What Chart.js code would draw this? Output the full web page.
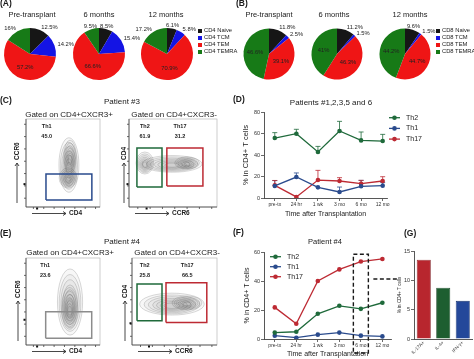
<!DOCTYPE html>
<html>
<head>
<meta charset="utf-8">
<script src="https://cdn.jsdelivr.net/npm/chart.js@4.4.1/dist/chart.umd.min.js"></script>
<style>
  body { margin: 0; width: 474px; height: 359px; position: relative; overflow: hidden; background: #fff;
         font-family: 'Liberation Sans', Arial, Helvetica, sans-serif; color: #1a1a1a; }
  canvas { position: absolute; }
  .c { position: absolute; white-space: nowrap; transform: translate(-50%, -50%); line-height: 1; filter: grayscale(1); }
  .l { position: absolute; white-space: nowrap; transform: translateY(-50%); line-height: 1; filter: grayscale(1); }
  .panel { font-size: 8.5px; font-weight: bold; }
  .pt { font-size: 7.5px; }
  .ft { font-size: 8px; }
  .lg { font-size: 5.8px; }
  .sq { position: absolute; width: 4px; height: 4px; }
</style>
</head>
<body>
<!-- panel letters -->
<div class="l panel" style="left:0;top:3px">(A)</div>
<div class="l panel" style="left:236px;top:3px">(B)</div>
<div class="l panel" style="left:0;top:100px">(C)</div>
<div class="l panel" style="left:233px;top:99px">(D)</div>
<div class="l panel" style="left:0;top:233px">(E)</div>
<div class="l panel" style="left:233px;top:232px">(F)</div>
<div class="l panel" style="left:404px;top:233px">(G)</div>

<!-- pie titles -->
<div class="c pt" style="left:32px;top:15px">Pre-transplant</div>
<div class="c pt" style="left:99px;top:15px">6 months</div>
<div class="c pt" style="left:166px;top:15px">12 months</div>
<div class="c pt" style="left:269px;top:15px">Pre-transplant</div>
<div class="c pt" style="left:334px;top:15px">6 months</div>
<div class="c pt" style="left:410px;top:15px">12 months</div>

<div id="legA"></div>
<div id="legB"></div>

<!-- flow / line titles -->
<div class="c ft" style="left:122px;top:102px">Patient #3</div>
<div class="c ft" style="left:69px;top:115px">Gated on CD4+CXCR3+</div>
<div class="c ft" style="left:174px;top:115px">Gated on CD4+CXCR3-</div>
<div class="c ft" style="left:122px;top:242px">Patient #4</div>
<div class="c ft" style="left:70px;top:253px">Gated on CD4+CXCR3+</div>
<div class="c ft" style="left:177px;top:253px">Gated on CD4+CXCR3-</div>
<div class="c ft" style="left:331px;top:103px">Patients #1,2,3,5 and 6</div>
<div class="c pt" style="left:325px;top:242px">Patient #4</div>

<canvas id="pieA1" width="90" height="70" style="left:-15px;top:19px"></canvas>
<canvas id="pieA2" width="90" height="70" style="left:54px;top:19px"></canvas>
<canvas id="pieA3" width="90" height="70" style="left:122px;top:19px"></canvas>
<canvas id="pieB1" width="90" height="70" style="left:224px;top:19px"></canvas>
<canvas id="pieB2" width="90" height="70" style="left:292px;top:19px"></canvas>
<canvas id="pieB3" width="90" height="70" style="left:360px;top:19px"></canvas>

<canvas id="flowC1" width="105" height="103" style="left:3px;top:117px"></canvas>
<canvas id="flowC2" width="115" height="103" style="left:110px;top:117px"></canvas>
<canvas id="flowE1" width="105" height="103" style="left:3px;top:256px"></canvas>
<canvas id="flowE2" width="115" height="103" style="left:110px;top:256px"></canvas>

<canvas id="lineD" width="237" height="115" style="left:237px;top:104px"></canvas>
<canvas id="lineF" width="237" height="113" style="left:237px;top:246px"></canvas>
<canvas id="barG" width="81" height="113" style="left:393px;top:246px"></canvas>

<script>
// ---- data ----
const cd4Subsets = ['CD4 Naive', 'CD4 TCM', 'CD4 TEM', 'CD4 TEMRA'];
const cd8Subsets = ['CD8 Naive', 'CD8 TCM', 'CD8 TEM', 'CD8 TEMRA'];
const cd4Pre = [12.5, 14.2, 57.2, 16];
const cd4Month6 = [8.5, 15.4, 66.6, 9.5];
const cd4Month12 = [6.1, 5.8, 70.9, 17.2];
const cd8Pre = [11.8, 2.5, 39.1, 46.6];
const cd8Month6 = [11.2, 1.5, 46.3, 41];
const cd8Month12 = [9.6, 1.5, 44.7, 44.2];

const timepoints = ['pre-tx', '24 hr', '1 wk', '3 mo', '6 mo', '12 mo'];
const groupTh2 = [55.8, 59.8, 42.8, 62.3, 53.6, 53];
const groupTh2Err = [5, 4.1, 5.2, 9, 7.8, 6.2];
const groupTh1 = [11.2, 19.5, 9.9, 5.6, 10.9, 11.5];
const groupTh1Err = [5, 3.8, 0, 4.6, 5.5, 3];
const groupTh17 = [11.8, 1, 16.7, 15.8, 13.3, 15.8];
const groupTh17Err = [4.5, 0, 9, 3.1, 3.1, 4];

const p4Th2 = [4.4, 5, 17.4, 22.9, 20.8, 25];
const p4Th1 = [2.3, 0.9, 3, 4.4, 2.3, 1.8];
const p4Th17 = [21.8, 10.5, 40, 48, 53.4, 55.2];

const cytokines = ['IL-17A+', 'IL-4+', 'IFN-\u03b3+'];
const cytokinePct = [13.5, 8.75, 6.5];

// flow gates: [x0, x1, y0, y1] on a 0-100 display scale
const p3Th1Gate = [27, 89, 8, 37.5];
const p3Th2Gate = [9, 37.5, 22.7, 67];
const p3Th17Gate = [43, 84, 23.9, 67];
const p4Th1Gate = [26.6, 88.8, 7.7, 38.3];
const p4Th2Gate = [5.9, 35.3, 28, 70];
const p4Th17Gate = [40, 88, 26, 71.6];
const p3Th1Pct = '45.0', p3Th2Pct = '61.9', p3Th17Pct = '31.2';
const p4Th1Pct = '23.6', p4Th2Pct = '25.8', p4Th17Pct = '66.5';
// contour populations: [cx, cy, rx, ry]
const p3PosCells = [[58, 47.7, 13.5, 31], [56.8, 33, 12, 11.4], [59.5, 57, 8.5, 19]];
const p3NegCells = [[49, 49, 34, 9.5], [18, 50, 10, 12.5], [66, 50, 14, 7]];
const p4PosCells = [[59.5, 49.4, 17, 38], [59, 42, 11, 24]];
const p4NegCells = [[47, 47, 38, 12.6], [64.7, 48.3, 17.6, 8]];

const FONT = "'Liberation Sans', Arial, Helvetica, sans-serif";
Chart.defaults.font.family = FONT;
Chart.defaults.color = '#222';
Chart.defaults.animation = false;
Chart.defaults.responsive = false;
Chart.defaults.plugins.legend.display = false;
Chart.defaults.plugins.tooltip.enabled = false;

const pieColors = ['#161616', '#1414e4', '#ef1515', '#177a17'];
const green = '#1f6a3b', blue = '#2a4b8d', red = '#bd2a33';

// html legends for the pies
function pieLegend (el, names, left) {
  const box = document.getElementById(el);
  names.forEach((n, i) => {
    const y = 31 + i * 7;
    const sq = document.createElement('div');
    sq.className = 'sq';
    sq.style.left = left + 'px';
    sq.style.top = (y - 2) + 'px';
    sq.style.background = pieColors[i];
    box.appendChild(sq);
    const d = document.createElement('div');
    d.className = 'l lg';
    d.style.left = (left + 6) + 'px';
    d.style.top = y + 'px';
    d.textContent = n;
    box.appendChild(d);
  });
}
pieLegend('legA', cd4Subsets, 198);
pieLegend('legB', cd8Subsets, 436);

// percentage labels on / around slices
const pieLabels = {
  id: 'pieLabels',
  afterDatasetsDraw (chart) {
    const ctx = chart.ctx;
    const vals = chart.data.datasets[0].data;
    ctx.save();
    ctx.font = '5.8px ' + FONT;
    ctx.fillStyle = '#222';
    ctx.textBaseline = 'middle';
    chart.getDatasetMeta(0).data.forEach((arc, i) => {
      const mid = (arc.startAngle + arc.endAngle) / 2;
      const inside = vals[i] > 30;
      const d = arc.outerRadius * (inside ? 0.55 : 1.12);
      const c = Math.cos(mid);
      ctx.textAlign = inside ? 'center' : (c > 0.3 ? 'left' : c < -0.3 ? 'right' : 'center');
      ctx.fillText(vals[i] + '%', arc.x + c * d, arc.y + Math.sin(mid) * d);
    });
    ctx.restore();
  }
};

function pie (id, labels, values, r) {
  const cv = document.getElementById(id);
  const px = (cv.width - 2 * r) / 2, py = (cv.height - 2 * r) / 2;
  new Chart(cv, {
    type: 'pie',
    data: { labels: labels, datasets: [{ data: values, backgroundColor: pieColors, borderWidth: 0 }] },
    options: { layout: { padding: { left: px, right: px, top: py, bottom: py } } },
    plugins: [pieLabels]
  });
}
pie('pieA1', cd4Subsets, cd4Pre, 26);
pie('pieA2', cd4Subsets, cd4Month6, 26);
pie('pieA3', cd4Subsets, cd4Month12, 26);
pie('pieB1', cd8Subsets, cd8Pre, 25.5);
pie('pieB2', cd8Subsets, cd8Month6, 25.5);
pie('pieB3', cd8Subsets, cd8Month12, 25.5);

// ---- flow plots ----
const contourLevels = [1, 0.86, 0.73, 0.6, 0.48, 0.36, 0.25];
const flowDecor = {
  id: 'flowDecor',
  beforeDatasetsDraw (chart, args, o) {
    const ctx = chart.ctx, xs = chart.scales.x, ys = chart.scales.y, a = chart.chartArea;
    ctx.save();
    o.cells.forEach(([cx, cy, rx, ry]) => {
      const px = xs.getPixelForValue(cx), py = ys.getPixelForValue(cy);
      const prx = xs.getPixelForValue(cx + rx) - px, pry = py - ys.getPixelForValue(cy + ry);
      contourLevels.forEach(f => {
        ctx.beginPath();
        ctx.ellipse(px, py + pry * (1 - f) * 0.2, prx * f, pry * f, 0, 0, Math.PI * 2);
        ctx.fillStyle = 'rgba(120,120,120,0.06)';
        ctx.fill();
        ctx.strokeStyle = 'rgba(70,70,70,0.42)';
        ctx.lineWidth = 0.5;
        ctx.stroke();
      });
    });
    // frame
    ctx.strokeStyle = '#b8b8b8';
    ctx.lineWidth = 0.7;
    ctx.strokeRect(a.left, a.top, a.right - a.left, a.bottom - a.top);
    ctx.strokeStyle = '#444';
    ctx.lineWidth = 0.8;
    ctx.beginPath();
    ctx.moveTo(a.left, a.top); ctx.lineTo(a.left, a.bottom); ctx.lineTo(a.right, a.bottom);
    [10, 24, 38, 52, 66, 80, 94].forEach(v => {
      const y = ys.getPixelForValue(v);
      ctx.moveTo(a.left - 2, y); ctx.lineTo(a.left, y);
      const x = xs.getPixelForValue(v);
      ctx.moveTo(x, a.bottom); ctx.lineTo(x, a.bottom + 2);
    });
    ctx.stroke();
    ctx.fillStyle = '#111';
    ctx.fillRect(a.left - 2.5, ys.getPixelForValue(o.zeroY) - 1, 2, 2);
    ctx.fillRect(xs.getPixelForValue(o.zeroX) - 1, a.bottom + 0.5, 2, 2);
    ctx.restore();
  },
  afterDraw (chart, args, o) {
    const ctx = chart.ctx, xs = chart.scales.x, ys = chart.scales.y, a = chart.chartArea;
    ctx.save();
    ctx.fillStyle = '#222';
    ctx.strokeStyle = '#333';
    ctx.lineWidth = 0.9;
    // x arrow + title
    const ay = a.bottom + 6.5;
    ctx.beginPath();
    ctx.moveTo(a.left + 6, ay); ctx.lineTo(a.left + 40, ay);
    ctx.moveTo(a.left + 37, ay - 2); ctx.lineTo(a.left + 40, ay); ctx.lineTo(a.left + 37, ay + 2);
    ctx.stroke();
    ctx.font = 'bold 6.5px ' + FONT;
    ctx.textBaseline = 'middle';
    ctx.textAlign = 'left';
    ctx.fillText(o.xTitle, a.left + 43, ay);
    // y arrow + title
    const ax = a.left - o.yOff;
    ctx.beginPath();
    ctx.moveTo(ax, a.bottom - 4); ctx.lineTo(ax, a.bottom - 44);
    ctx.moveTo(ax - 2, a.bottom - 41); ctx.lineTo(ax, a.bottom - 44); ctx.lineTo(ax + 2, a.bottom - 41);
    ctx.stroke();
    ctx.translate(ax, a.bottom - 47);
    ctx.rotate(-Math.PI / 2);
    ctx.fillText(o.yTitle, 0, 0);
    ctx.restore();
    // gate names and percentages
    ctx.save();
    ctx.font = 'bold 5.5px ' + FONT;
    ctx.fillStyle = '#222';
    ctx.textAlign = 'center';
    ctx.textBaseline = 'middle';
    o.gateText.forEach(t => {
      const x = xs.getPixelForValue(t.x);
      ctx.fillText(t.name, x, ys.getPixelForValue(91));
      ctx.fillText(t.pct, x, ys.getPixelForValue(80));
    });
    ctx.restore();
  }
};

function gateSet (g, color) {
  const [x0, x1, y0, y1] = g;
  return {
    data: [{ x: x0, y: y0 }, { x: x1, y: y0 }, { x: x1, y: y1 }, { x: x0, y: y1 }, { x: x0, y: y0 }],
    showLine: true, borderColor: color, borderWidth: 1.5, pointRadius: 0, fill: false
  };
}

function flow (id, pad, gates, decor) {
  new Chart(document.getElementById(id), {
    type: 'scatter',
    data: { datasets: gates },
    options: {
      layout: { padding: pad },
      scales: {
        x: { type: 'linear', min: 0, max: 100, display: false },
        y: { type: 'linear', min: 0, max: 100, display: false }
      },
      plugins: { flowDecor: decor }
    },
    plugins: [flowDecor]
  });
}

flow('flowC1', { left: 23, top: 2, right: 8, bottom: 13 }, [gateSet(p3Th1Gate, blue)],
  { cells: p3PosCells, xTitle: 'CD4', yTitle: 'CCR6', yOff: 9, zeroX: 15, zeroY: 26,
    gateText: [{ name: 'Th1', pct: p3Th1Pct, x: 28 }] });
flow('flowC2', { left: 19, top: 2, right: 8, bottom: 13 },
  [gateSet(p3Th2Gate, green), gateSet(p3Th17Gate, red)],
  { cells: p3NegCells, xTitle: 'CCR6', yTitle: 'CD4', yOff: 5, zeroX: 20, zeroY: 26,
    gateText: [{ name: 'Th2', pct: p3Th2Pct, x: 18 }, { name: 'Th17', pct: p3Th17Pct, x: 58 }] });
flow('flowE1', { left: 23, top: 2, right: 8, bottom: 14 }, [gateSet(p4Th1Gate, '#8c8c8c')],
  { cells: p4PosCells, xTitle: 'CD4', yTitle: 'CCR6', yOff: 8, zeroX: 15, zeroY: 29,
    gateText: [{ name: 'Th1', pct: p4Th1Pct, x: 26 }] });
flow('flowE2', { left: 22, top: 2, right: 8, bottom: 14 },
  [gateSet(p4Th2Gate, green), gateSet(p4Th17Gate, red)],
  { cells: p4NegCells, xTitle: 'CCR6', yTitle: 'CD4', yOff: 7, zeroX: 20, zeroY: 25,
    gateText: [{ name: 'Th2', pct: p4Th2Pct, x: 15 }, { name: 'Th17', pct: p4Th17Pct, x: 65 }] });

// ---- line charts ----
const errorBars = {
  id: 'errorBars',
  beforeDatasetsDraw (chart) {
    const ctx = chart.ctx, ys = chart.scales.y;
    chart.data.datasets.forEach((ds, di) => {
      if (!ds.errorUp) return;
      ctx.save();
      ctx.strokeStyle = ds.borderColor;
      ctx.lineWidth = 0.8;
      chart.getDatasetMeta(di).data.forEach((pt, i) => {
        const e = ds.errorUp[i];
        if (!e) return;
        const top = ys.getPixelForValue(ds.data[i].y + e);
        ctx.beginPath();
        ctx.moveTo(pt.x, pt.y); ctx.lineTo(pt.x, top);
        ctx.moveTo(pt.x - 2.5, top); ctx.lineTo(pt.x + 2.5, top);
        ctx.stroke();
      });
      ctx.restore();
    });
  }
};

const lineLegend = {
  id: 'lineLegend',
  afterDraw (chart, args, o) {
    const ctx = chart.ctx;
    ctx.save();
    ctx.font = '7px ' + FONT;
    ctx.textBaseline = 'middle';
    chart.data.datasets.forEach((ds, i) => {
      const y = o.y + i * o.gap;
      ctx.strokeStyle = ds.borderColor;
      ctx.fillStyle = ds.borderColor;
      ctx.lineWidth = 1.3;
      ctx.beginPath(); ctx.moveTo(o.x, y); ctx.lineTo(o.x + 11, y); ctx.stroke();
      ctx.beginPath(); ctx.arc(o.x + 5.5, y, 2.3, 0, Math.PI * 2); ctx.fill();
      ctx.fillStyle = '#222';
      ctx.fillText(ds.label, o.x + 17, y);
    });
    ctx.restore();
  }
};

const focusBox = {
  id: 'focusBox',
  afterDraw (chart) {
    const ctx = chart.ctx, xs = chart.scales.x, ys = chart.scales.y, a = chart.chartArea;
    const cx = xs.getPixelForValue(timepoints.indexOf('6 mo'));
    const l = cx - 7.5, r = cx + 7.5, t = ys.getPixelForValue(58.4), b = a.bottom + 14;
    const ly = ys.getPixelForValue(41.4);
    ctx.save();
    ctx.setLineDash([4, 2.5]);
    ctx.lineWidth = 1.4;
    ctx.strokeStyle = '#1a1a1a';
    ctx.strokeRect(l, t, r - l, b - t);
    ctx.beginPath(); ctx.moveTo(r + 5, ly); ctx.lineTo(r + 29, ly); ctx.stroke();
    ctx.restore();
  }
};

function series (label, values, err, color) {
  return {
    label: label, data: values.map((v, i) => ({ x: i, y: v })), errorUp: err,
    borderColor: color, backgroundColor: color, borderWidth: 1.3,
    pointRadius: 2.3, pointBorderWidth: 0, tension: 0
  };
}

function timeChart (id, sets, o) {
  new Chart(document.getElementById(id), {
    type: 'line',
    data: { datasets: sets },
    options: {
      layout: { padding: { left: 0, top: o.top, right: o.right, bottom: 0 } },
      scales: {
        x: {
          type: 'linear', min: -0.5, max: o.xMax,
          afterBuildTicks: s => { s.ticks = timepoints.map((t, i) => ({ value: i })) },
          afterFit: s => { s.height = o.xh },
          ticks: { autoSkip: false, maxRotation: 0, font: { size: 5 }, padding: 1, color: '#333', callback: v => timepoints[v] },
          grid: { drawOnChartArea: false, tickLength: 3, color: '#444', lineWidth: 0.8 },
          border: { color: '#444', width: 0.9 },
          title: { display: true, text: 'Time after Transplantation', font: { size: 7 }, padding: { top: 0, bottom: 1 } }
        },
        y: {
          min: 0, max: o.yMax,
          afterFit: s => { s.width = 27 },
          ticks: { stepSize: 20, font: { size: 5.5 }, padding: 1, color: '#333' },
          grid: { drawOnChartArea: false, tickLength: 3, color: '#444', lineWidth: 0.8 },
          border: { color: '#444', width: 0.9 },
          title: { display: true, text: '% in CD4+ T cells', font: { size: o.yTitleSize }, padding: { top: o.yTitlePad, bottom: 0 } }
        }
      },
      plugins: { lineLegend: o.legend }
    },
    plugins: [errorBars, lineLegend].concat(o.extra || [])
  });
}

timeChart('lineD', [
  series('Th2', groupTh2, groupTh2Err, green),
  series('Th1', groupTh1, groupTh1Err, blue),
  series('Th17', groupTh17, groupTh17Err, red)
], { top: 8, right: 87, xh: 21, xMax: 5.2, yMax: 80, yTitleSize: 7.5, yTitlePad: 4,
  legend: { x: 152, y: 13.7, gap: 10.7 } });

timeChart('lineF', [
  series('Th2', p4Th2, null, green),
  series('Th1', p4Th1, null, blue),
  series('Th17', p4Th17, null, red)
], { top: 6, right: 83, xh: 20, xMax: 5.4, yMax: 60, yTitleSize: 7, yTitlePad: 5.8,
  legend: { x: 33, y: 10.7, gap: 10 }, extra: [focusBox] });

// ---- bar chart ----
new Chart(document.getElementById('barG'), {
  type: 'bar',
  data: {
    labels: cytokines,
    datasets: [{
      data: cytokinePct,
      backgroundColor: ['#b8262e', '#1d5e30', '#24489a'],
      borderColor: ['#7d151b', '#0f3d1d', '#15306c'],
      borderWidth: 0.8, barPercentage: 0.72, categoryPercentage: 1
    }]
  },
  options: {
    layout: { padding: { left: 0, top: 5, right: 1.5, bottom: 0 } },
    scales: {
      x: {
        afterFit: s => { s.height = 20 },
        ticks: { autoSkip: false, minRotation: 45, maxRotation: 45, font: { size: 4.6 }, padding: 1, color: '#333' },
        grid: { drawOnChartArea: false, drawTicks: false },
        border: { color: '#444', width: 0.9 }
      },
      y: {
        min: 0, max: 15,
        afterFit: s => { s.width = 21 },
        ticks: { stepSize: 5, font: { size: 5.5 }, padding: 1, color: '#333' },
        grid: { drawOnChartArea: false, tickLength: 3, color: '#444', lineWidth: 0.8 },
        border: { color: '#444', width: 0.9 },
        title: { display: true, text: '% in CD4+ T cells', font: { size: 4.6 }, padding: { top: 4, bottom: 0 } }
      }
    }
  }
});
</script>
</body>
</html>
